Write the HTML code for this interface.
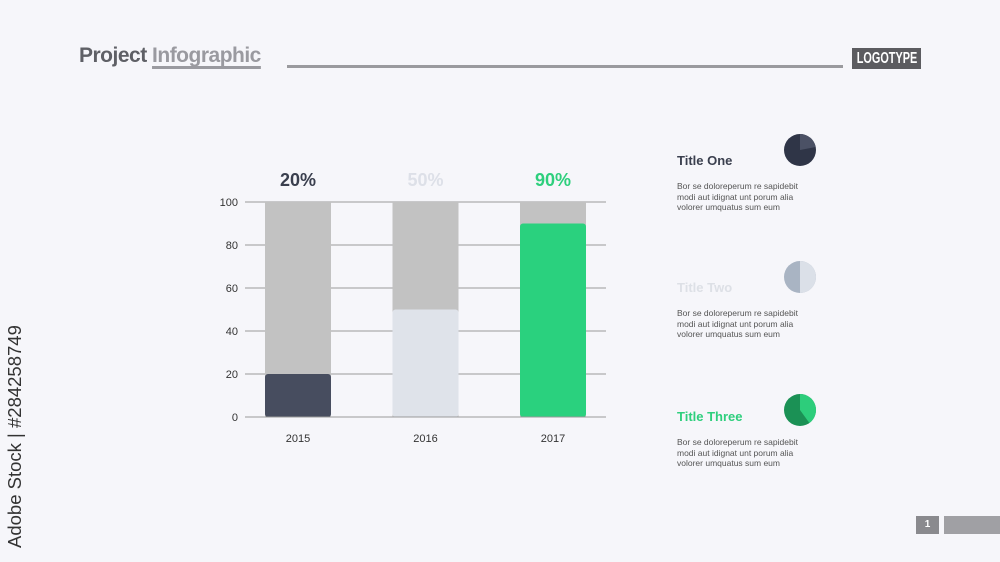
<!DOCTYPE html>
<html><head><meta charset="utf-8"><style>
body{margin:0;width:1000px;height:562px;background:#f6f6fa;font-family:"Liberation Sans",sans-serif;position:relative;overflow:hidden}
.abs{position:absolute}
.title{left:79px;top:44px;font-size:21px;font-weight:bold;color:#5f6066;letter-spacing:-0.5px}
.title span{color:#9a9aa0;text-decoration:underline;text-decoration-thickness:3px;text-underline-offset:4px}
.hr{left:287px;top:65px;width:556px;height:3px;background:#9a9a9e}
.logo{left:852px;top:48px;width:69px;height:21px;background:#5c5c60;color:#fff;overflow:hidden}
.logo span{position:absolute;left:50%;top:0;line-height:21px;font-size:16px;font-weight:bold;transform:translateX(-50%) scaleX(0.68);white-space:nowrap}
.itm h3{margin:0;font-size:13px;font-weight:bold}
.itm p{margin:0;font-size:8.5px;line-height:10.5px;color:#555}
.side{left:4px;top:548px;transform:rotate(-90deg);transform-origin:0 0;font-size:18.5px;color:#333;white-space:nowrap}
</style></head><body>
<div class="abs title">Project <span>Infographic</span></div>
<div class="abs hr"></div>
<div class="abs logo"><span>LOGOTYPE</span></div>
<div class="abs side">Adobe Stock | #284258749</div>
<svg class="abs" style="left:0;top:0" width="1000" height="562">
<g id="grid"></g><g id="chart"></g><g id="pies"></g>
</svg>
<div class="abs itm" style="left:677px;top:153px"><h3 style="color:#3a3f4e">Title One</h3><p style="margin-top:13px">Bor se doloreperum re sapidebit<br>modi aut idignat unt porum alia<br>volorer umquatus sum eum</p></div>
<div class="abs itm" style="left:677px;top:280px"><h3 style="color:#dde0e6">Title Two</h3><p style="margin-top:13px">Bor se doloreperum re sapidebit<br>modi aut idignat unt porum alia<br>volorer umquatus sum eum</p></div>
<div class="abs itm" style="left:677px;top:409px"><h3 style="color:#2ecf7d">Title Three</h3><p style="margin-top:13px">Bor se doloreperum re sapidebit<br>modi aut idignat unt porum alia<br>volorer umquatus sum eum</p></div>
<div class="abs" style="left:916px;top:516px;width:23px;height:18px;background:#8a8a8e;color:#fff;font-size:10px;font-weight:bold;text-align:center;line-height:18px">1</div>
<div class="abs" style="left:944px;top:516px;width:56px;height:18px;background:#a0a0a4"></div>
<script>
const years=["2015","2016","2017"];
const values=[20,50,90];
const yTicks=[0,20,40,60,80,100];
const labelColors=["#3a3f4e","#dde0e8","#2ecf7d"];
const barColors=["#474d5f","#dfe3ea","#2ad17e"];
const pieShares=[0.22,0.5,0.4];
const NS="http://www.w3.org/2000/svg";
const g=document.getElementById('chart');
const gg=document.getElementById('grid');
const y0=417,y1=202,xL=245,xR=606,bx0=265,bstep=127.5,bw=66;
const ys=v=>y0-(v/100)*(y0-y1);
function mk(t,a,p){const e=document.createElementNS(NS,t);for(const k in a)e.setAttribute(k,a[k]);(p||g).appendChild(e);return e;}
yTicks.forEach(v=>{
 const ln=mk('line',{x1:xL,x2:xR,y1:ys(v),y2:ys(v),stroke:'#999','stroke-width':1},gg);
 
 
 const t=mk('text',{x:238,y:ys(v)+4,'text-anchor':'end','font-size':11,fill:'#333'},gg);t.textContent=v;
 
 
});
years.forEach((yr,i)=>{
 const x=bx0+i*bstep;
 const bg=mk('rect',{x:x,y:ys(100),width:bw,height:ys(0)-ys(100),fill:'#c2c2c2'});
 
 
 const b=mk('rect',{x:x,y:ys(values[i]),width:bw,height:ys(0)-ys(values[i]),rx:3,fill:barColors[i]});
 
 
 const t=mk('text',{x:x+bw/2,y:442,'text-anchor':'middle','font-size':11,fill:'#333'});t.textContent=yr;
 
 
 const l=mk('text',{x:x+bw/2,y:186,'text-anchor':'middle','font-size':18,'font-weight':'bold',fill:labelColors[i]});l.textContent=values[i]+'%';
 
 
});
const ax=mk('line',{x1:xL,x2:xR,y1:y0,y2:y0,stroke:'#999','stroke-width':1});


const pg=document.getElementById('pies');
const pieCfg=[[800,150,'#2f3547','#4b5165'],[800,277,'#a9b4c3','#dbe0e8'],[800,410,'#1b9155','#2dcd7b']];
pieShares.forEach((s,i)=>{
 const [cx,cy,base,sl]=pieCfg[i],r=16;
 const c=mk('circle',{cx:cx,cy:cy,r:r,fill:base},pg);
 
 
 const a=s*2*Math.PI,ex=cx+r*Math.sin(a),ey=cy-r*Math.cos(a);
 const p=mk('path',{d:`M${cx},${cy} L${cx},${cy-r} A${r},${r} 0 ${s>0.5?1:0} 1 ${ex},${ey} Z`,fill:sl},pg);
 
 
});
</script>
</body></html>
